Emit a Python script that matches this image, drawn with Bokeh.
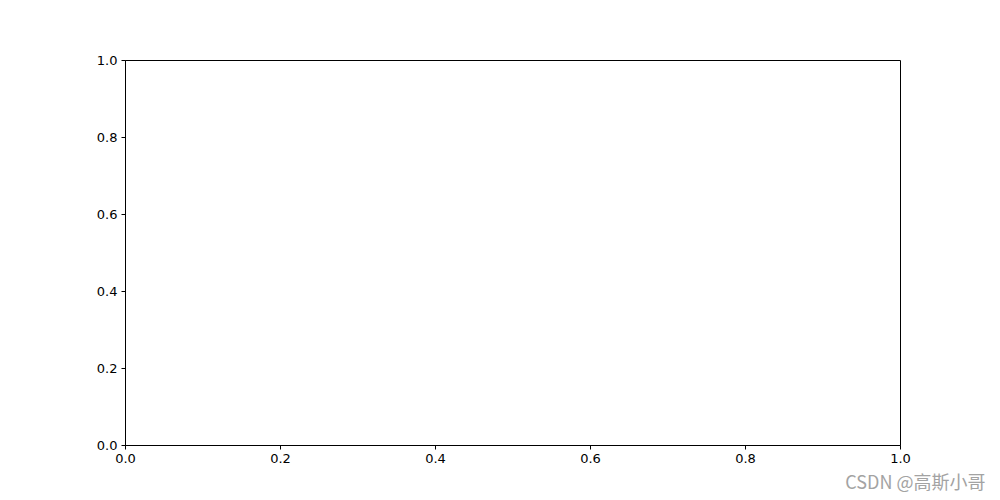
from bokeh.plotting import figure
from bokeh.models import Range1d, FixedTicker, Title
from bokeh.embed import file_html
from bokeh.resources import INLINE

x_ticks = [0.0, 0.2, 0.4, 0.6, 0.8, 1.0]
y_ticks = [0.0, 0.2, 0.4, 0.6, 0.8, 1.0]
x_limits = (0.0, 1.0)
y_limits = (0.0, 1.0)
watermark = "CSDN @高斯小哥"

p = figure(width=1000, height=500, output_backend="svg", toolbar_location=None,
           x_range=Range1d(*x_limits), y_range=Range1d(*y_limits))
p.min_border_left = 125
p.min_border_right = 100
p.min_border_top = 60
p.min_border_bottom = 55
p.grid.visible = False
p.outline_line_color = "black"
p.outline_line_width = 1
p.outline_line_alpha = 1

for ax, ticks in ((p.xaxis, x_ticks), (p.yaxis, y_ticks)):
    ax.ticker = FixedTicker(ticks=ticks)
    ax.major_label_overrides = {t: f"{t:.1f}" for t in ticks}
    ax.major_tick_out = 4
    ax.major_tick_in = 0
    ax.minor_tick_line_color = None
    ax.axis_line_color = "black"
    ax.major_tick_line_color = "black"
    ax.major_label_text_font = "DejaVu Sans"
    ax.major_label_text_font_size = "13px"
    ax.major_label_text_color = "black"
    ax.major_label_standoff = 4

# watermark as a bottom title, pushed right past the frame edge
wm = Title(text=watermark, align="right", offset=-85, standoff=0,
           text_font="Noto Sans CJK SC", text_font_size="18px",
           text_font_style="normal", text_color="#a3a3a3")
p.add_layout(wm, "below")

open("out.html", "w").write(file_html(p, INLINE))
